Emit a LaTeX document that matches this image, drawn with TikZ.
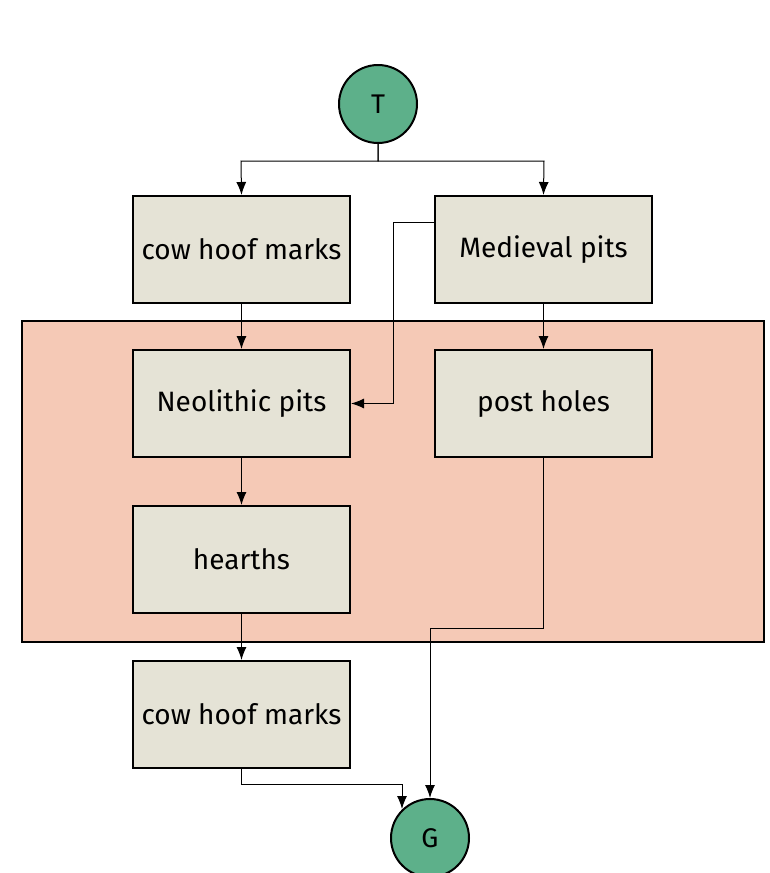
\documentclass[tikz,border=0pt]{standalone}
\usepackage{fontspec}
\setmainfont{Fira Sans}
\usetikzlibrary{arrows.meta}
\definecolor{boxc}{HTML}{E5E3D6}
\definecolor{grp}{HTML}{F5C9B6}
\definecolor{circ}{HTML}{5DB08A}
\begin{document}
\begin{tikzpicture}[x=1pt,y=-1pt,
 box/.style={draw=black,line width=2pt,fill=boxc,minimum width=217pt,minimum height=107pt,inner sep=0pt,font=\fontsize{28}{33}\selectfont},
 cir/.style={circle,draw=black,line width=2pt,fill=circ,minimum size=78pt,inner sep=0pt,font=\fontsize{27}{32}\selectfont},
 arr/.style={-{Latex[length=13pt,width=10pt]},line width=1pt}]
\useasboundingbox (0,0) rectangle (770,873);
\node[draw=black,line width=2pt,fill=grp,minimum width=742pt,minimum height=321pt,inner sep=0pt] (grp) at (393,481.5) {};
\node[cir] (T) at (378,104) {T};
\node[cir] (G) at (430,838) {G};
\node[box] (c1) at (241.5,249.5) {cow hoof marks};
\node[box] (mp) at (543.5,249.5) {Medieval pits};
\node[box] (np) at (241.5,403.5) {Neolithic pits};
\node[box] (ph) at (543.5,403.5) {post holes};
\node[box] (he) at (241.5,559.5) {hearths};
\node[box] (c2) at (241.5,714.5) {cow hoof marks};
\draw[arr] (T.south) |- (241,161) -- (c1.north);
\draw[arr] (T.south) |- (544,161) -- (mp.north);
\draw[arr] (mp.west |- 0,222) -- (393,222) |- (np.east);
\draw[arr] (c1) -- (np);
\draw[arr] (mp) -- (ph);
\draw[arr] (np) -- (he);
\draw[arr] (he) -- (c2);
\draw[arr] (ph.south) |- (430,628) -- (G.north);
\draw[arr] (c2.south) |- (402,784) -- (402,809);
\end{tikzpicture}
\end{document}
